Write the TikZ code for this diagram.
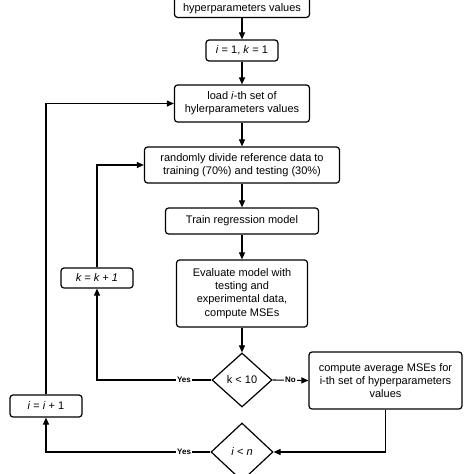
\documentclass[tikz,border=0pt]{standalone}
\usepackage{fontspec}
\setmainfont{Liberation Sans}
\usetikzlibrary{arrows.meta,shapes.geometric}
\begin{document}
\begin{tikzpicture}[x=1pt,y=-1pt,
  box/.style={draw,rounded corners=3pt,line width=1.2pt,align=center,inner sep=0pt,
    font=\fontsize{11}{13.2}\selectfont},
  dec/.style={draw,diamond,line width=1.2pt,inner sep=0pt,align=center,
    font=\fontsize{11}{13}\selectfont},
  arr/.style={line width=1.1pt,-{Triangle[length=7pt,width=6pt]}},
  lbl/.style={font=\fontsize{8}{9}\selectfont\bfseries,fill=white,inner sep=1pt}]
\useasboundingbox (0,0) rectangle (474,474);
\clip (0,0) rectangle (474,474);
\fill[white] (0,0) rectangle (474,474);

\node[box,anchor=south,minimum width=135pt,text height=32pt,text depth=6pt] (n1) at (242,18) {hyperparameters values};
\node[box,minimum width=72pt,minimum height=21pt] (n2) at (242,50.5) {\textit{i} = 1, \textit{k} = 1};
\node[box,minimum width=135pt,minimum height=37pt] (n3) at (242,103.5) {load \textit{i}-th set of\\hylerparameters values};
\node[box,minimum width=195pt,minimum height=36pt] (n4) at (242,165) {randomly divide reference data to\\training (70\%) and testing (30\%)};
\node[box,minimum width=153pt,minimum height=26pt] (n5) at (242,221) {Train regression model};
\node[box,minimum width=131pt,minimum height=67pt] (n6) at (242,293.5) {Evaluate model with\\testing and\\experimental data,\\compute MSEs};
\node[dec,minimum width=60pt,minimum height=54pt] (d1) at (242,380) {k < 10};
\node[box,minimum width=153pt,minimum height=57pt] (n7) at (385.5,380.5) {compute average MSEs for\\i-th set of hyperparameters\\values};
\node[dec,minimum width=62pt,minimum height=58pt] (d2) at (242,452) {\textit{i} < \textit{n}};
\node[box,minimum width=72pt,minimum height=20pt] (nk) at (97,278) {\textit{k = k + 1}};
\node[box,minimum width=72pt,minimum height=22pt] (ni) at (46,406) {\textit{i} = \textit{i} + 1};

\draw[arr] (n1) -- (n2);
\draw[arr] (n2) -- (n3);
\draw[arr] (n3) -- (n4);
\draw[arr] (n4) -- (n5);
\draw[arr] (n5) -- (n6);
\draw[arr] (n6) -- (d1);
\draw[arr] (d1.east) -- node[lbl]{No} (n7.west);
\draw[arr] (d1.west) -- node[lbl,pos=0.24]{Yes} (d1.west -| nk.south) -- (nk.south);
\draw[arr] (nk.north) |- (n4.west);
\draw[arr] (n7.south) |- (d2.east);
\draw[arr] (d2.west) -- node[lbl,pos=0.16]{Yes} (d2.west -| ni.south) -- (ni.south);
\draw[arr] (ni.north) |- (n3.west);
\end{tikzpicture}
\end{document}
